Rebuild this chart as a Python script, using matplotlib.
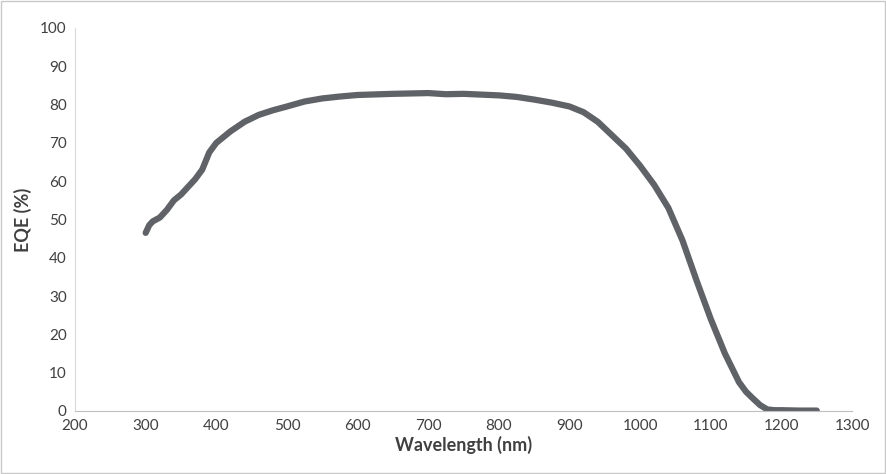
import matplotlib
matplotlib.use("Agg")
import matplotlib.pyplot as plt

plt.rcParams['font.family'] = ['Lato', 'DejaVu Sans']

# EQE curve
wavelength = [300, 305, 310, 320, 330, 340, 350, 360, 370, 380, 390, 400, 410, 420, 440,
              460, 480, 500, 525, 550, 575, 600, 650, 700, 725, 750, 800, 825, 850, 875,
              900, 920, 940, 960, 980, 1000, 1020, 1040, 1060, 1080, 1100, 1120, 1140,
              1150, 1160, 1170, 1180, 1190, 1200, 1225, 1250]
eqe = [46.5, 48.5, 49.5, 50.5, 52.5, 55, 56.5, 58.5, 60.5, 63, 67.5, 70, 71.5, 73, 75.5,
       77.3, 78.5, 79.5, 80.8, 81.6, 82.1, 82.5, 82.8, 83.0, 82.7, 82.8, 82.4, 82.0, 81.3, 80.5,
       79.5, 78, 75.5, 72, 68.5, 64, 59, 53, 44.5, 34, 24, 15, 7.5, 5, 3.2, 1.5, 0.4, 0.2,
       0.2, 0.1, 0.1]

fig = plt.figure(figsize=(8.87, 4.74), dpi=100)
ax = fig.add_axes([0.0846, 0.133, 0.876, 0.808])
ax.plot(wavelength, eqe, color='#5f6368', lw=4.5, solid_capstyle='round')

ax.set_xlim(200, 1300)
ax.set_ylim(0, 100)
ax.set_xticks(range(200, 1301, 100))
ax.set_yticks(range(0, 101, 10))
ax.tick_params(length=0, colors='#404040', labelsize=11, pad=6)
ax.set_xlabel('Wavelength (nm)', fontsize=13, color='#404040', labelpad=2, fontweight='bold')
ax.set_ylabel('EQE (%)', fontsize=13, color='#404040', labelpad=6, fontweight='bold')
for s in ['top', 'right']:
    ax.spines[s].set_visible(False)
ax.spines['left'].set_color('#d9d9d9')
ax.spines['bottom'].set_color('#bfbfbf')

fig.patches.append(plt.Rectangle((0.001, 0.002), 0.997, 0.995, transform=fig.transFigure,
                                 fill=False, edgecolor='#c8c8c8', lw=1))
fig.savefig('out.png', dpi=100)
